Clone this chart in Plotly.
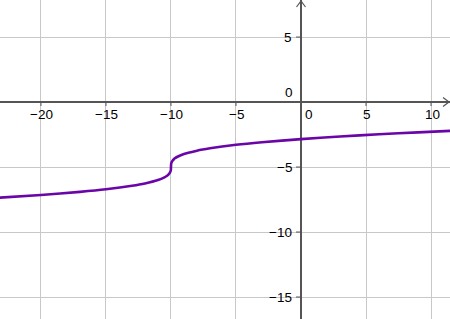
import plotly.graph_objects as go

# Curve points
curve_x = [-23.2, -20, -17, -15, -13, -12, -11, -10.5, -10.3, -10.2, -10.1, -10.05, -10.01, -10.0,
           -9.99, -9.95, -9.9, -9.8, -9.7, -9.5, -9, -8, -7, -5, -3, 0, 3, 6, 9, 11.5]
curve_y = [-7.36, -7.15, -6.91, -6.71, -6.44, -6.26, -6.0, -5.79, -5.67, -5.58, -5.46, -5.37, -5.22, -5.0,
           -4.78, -4.63, -4.54, -4.42, -4.33, -4.21, -4.0, -3.74, -3.56, -3.29, -3.09, -2.85, -2.65, -2.48, -2.33, -2.22]

x_ticks = [-20, -15, -10, -5, 0, 5, 10]
y_ticks = [5, 0, -5, -10, -15]
x_range = [-23.15, 11.46]
y_range = [-16.69, 7.85]

def fmt(v):
    return ("\u2212" + str(abs(v))) if v < 0 else str(v)

fig = go.Figure()
fig.add_trace(go.Scatter(x=curve_x, y=curve_y, mode="lines",
                         line=dict(color="#6a06a8", width=2.6, shape="spline", smoothing=0.6),
                         hoverinfo="skip", showlegend=False))

font = dict(family="Liberation Sans, Arial, sans-serif", size=13.5, color="#000000")
ann = []
shapes = []
for v in x_ticks:
    if v == 0:
        ann.append(dict(x=0, y=0, text="0", showarrow=False, xanchor="center", yanchor="top",
                        xshift=8, yshift=-3, font=font))
    else:
        ann.append(dict(x=v, y=0, text=fmt(v), showarrow=False, xanchor="center", yanchor="top",
                        xshift=1, yshift=-3, font=font))
        shapes.append(dict(type="line", xref="x", yref="y", ysizemode="pixel", yanchor=0,
                           x0=v, x1=v, y0=0, y1=-4, line=dict(color="#555555", width=1)))
for v in y_ticks:
    if v == 0:
        ann.append(dict(x=0, y=0, text="0", showarrow=False, xanchor="right", yanchor="bottom",
                        xshift=-6, yshift=0, font=font))
    else:
        ann.append(dict(x=0, y=v, text=fmt(v), showarrow=False, xanchor="right", yanchor="middle",
                        xshift=-7, font=font))
        shapes.append(dict(type="line", xref="x", yref="y", xsizemode="pixel", xanchor=0,
                           x0=-5, x1=0, y0=v, y1=v, line=dict(color="#555555", width=1)))

# axis arrows
shapes.append(dict(type="path", xref="paper", yref="y", xsizemode="pixel", xanchor=1,
                   ysizemode="pixel", yanchor=0, path="M -7,4.5 L -1,0 L -7,-4.5",
                   line=dict(color="#555555", width=1.2)))
shapes.append(dict(type="path", xref="x", yref="paper", xsizemode="pixel", xanchor=0,
                   ysizemode="pixel", yanchor=1, path="M -4.5,-7 L 0,-1 L 4.5,-7",
                   line=dict(color="#555555", width=1.2)))

fig.update_layout(
    width=450, height=319, margin=dict(l=0, r=0, t=0, b=0),
    paper_bgcolor="white", plot_bgcolor="white",
    annotations=ann, shapes=shapes,
    xaxis=dict(range=x_range, tick0=0, dtick=5, showticklabels=False, ticks="",
               showgrid=True, gridcolor="#c8c8c8", gridwidth=1,
               zeroline=True, zerolinecolor="#555555", zerolinewidth=1.5, showline=False, fixedrange=True),
    yaxis=dict(range=y_range, tick0=0, dtick=5, showticklabels=False, ticks="",
               showgrid=True, gridcolor="#c8c8c8", gridwidth=1,
               zeroline=True, zerolinecolor="#555555", zerolinewidth=1.5, showline=False, fixedrange=True),
)
fig.write_html("out.html")
